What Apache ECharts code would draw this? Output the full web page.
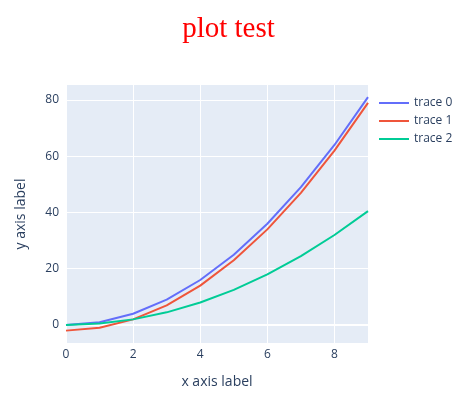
<!DOCTYPE html>
<html>
<head>
<meta charset="utf-8">
<script src="https://cdn.jsdelivr.net/npm/echarts@6/dist/echarts.min.js"></script>
<style>html,body{margin:0;padding:0;background:#fff}#c{width:457px;height:395px}</style>
</head>
<body>
<div id="c"></div>
<script>
const xValues = [0, 1, 2, 3, 4, 5, 6, 7, 8, 9];
const trace0 = [0, 1, 4, 9, 16, 25, 36, 49, 64, 81];
const trace1 = [-2, -1, 2, 7, 14, 23, 34, 47, 62, 79];
const trace2 = [0, 0.5, 2, 4.5, 8, 12.5, 18, 24.5, 32, 40.5];
const seriesNames = ['trace 0', 'trace 1', 'trace 2'];
const yTicks = [0, 20, 40, 60, 80];
const colors = ['#636efa', '#EF553B', '#00cc96'];

const chart = echarts.init(document.getElementById('c'), null, {renderer: 'canvas'});
const fontFam = '"Open Sans", "Liberation Sans", Arial, sans-serif';
const mk = (name, ys, i) => ({
  name: name, type: 'line', data: xValues.map((x, k) => [x, ys[k]]),
  showSymbol: false, symbol: 'none', smooth: false, z: 3,
  lineStyle: {color: colors[i], width: 2}, itemStyle: {color: colors[i]}
});
chart.setOption({
  animation: false,
  title: {text: 'plot test', left: 'center', top: 10,
    textStyle: {color: '#ff0000', fontFamily: '"Liberation Serif", "Times New Roman", serif', fontSize: 29, fontWeight: 'normal'}},
  legend: {orient: 'vertical', left: 374, top: 92, itemGap: 6, itemWidth: 30, itemHeight: 12,
    icon: 'path://M0,5 L30,5 L30,7 L0,7 Z',
    textStyle: {color: '#2a3f5f', fontSize: 12, fontFamily: fontFam},
    data: seriesNames},
  grid: {left: 66, right: 89, top: 85, bottom: 52, backgroundColor: '#E5ECF6', show: true, borderWidth: 0},
  xAxis: {type: 'value', min: 0, max: 9, interval: 2,
    name: 'x axis label', nameLocation: 'middle', nameGap: 32,
    nameTextStyle: {color: '#2a3f5f', fontSize: 14, fontFamily: fontFam},
    axisLine: {show: false}, axisTick: {show: false},
    axisLabel: {color: '#2a3f5f', fontSize: 12, fontFamily: fontFam, margin: 6, showMaxLabel: false},
    splitLine: {show: true, lineStyle: {color: '#ffffff', width: 1}}},
  yAxis: {type: 'value', min: -6.4, max: 85.33,
    name: 'y axis label', nameLocation: 'middle', nameGap: 38,
    nameTextStyle: {color: '#2a3f5f', fontSize: 14, fontFamily: fontFam},
    axisLine: {show: false}, axisTick: {show: false, customValues: yTicks},
    axisLabel: {color: '#2a3f5f', fontSize: 12, fontFamily: fontFam, margin: 7, customValues: yTicks},
    splitLine: {show: true, lineStyle: {color: '#ffffff', width: 1}}},
  series: [
    mk(seriesNames[0], trace0, 0),
    mk(seriesNames[1], trace1, 1),
    mk(seriesNames[2], trace2, 2),
    {type: 'line', data: [[0, 0], [9, 0]], symbol: 'none', silent: true, z: 2,
     lineStyle: {color: '#ffffff', width: 2}, tooltip: {show: false}}
  ]
});
</script>
</body>
</html>
